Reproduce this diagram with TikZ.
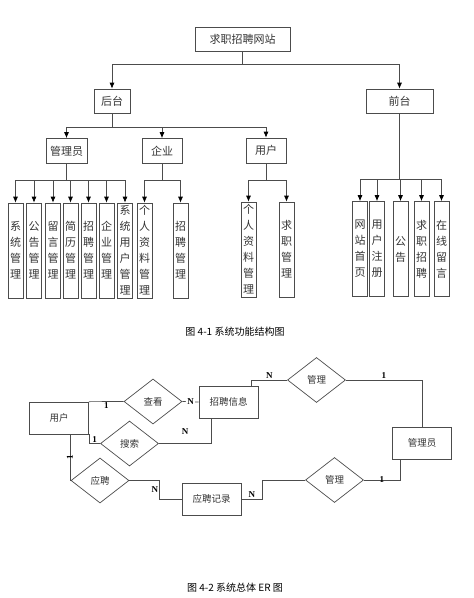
\documentclass[tikz,border=0pt]{standalone}
\usepackage{fontspec}
\setmainfont{Liberation Serif}
\newfontfamily\cjk{Noto Sans CJK SC}
\usetikzlibrary{shapes.geometric,arrows.meta}

\tikzset{
    box/.style={draw=black!70,line width=0.7pt,inner sep=0pt,text=black!80,font=\cjk\fontsize{11}{13}\selectfont},
    colbox/.style={box,minimum width=15pt,minimum height=95pt,align=center,font=\cjk\fontsize{11}{16}\selectfont},
    entity/.style={box,minimum width=59pt,minimum height=32pt,font=\cjk\fontsize{9.5}{11}\selectfont},
    relation/.style={box,diamond,minimum width=58pt,minimum height=45pt,font=\cjk\fontsize{9.5}{11}\selectfont},
    link/.style={draw=black!70,line width=0.7pt},
    arr/.style={link,-{Latex[length=6pt,width=5pt,color=black]}},
    card/.style={font=\bfseries\fontsize{9}{10}\selectfont,inner sep=1pt},
    caption/.style={font=\cjk\fontsize{10}{12}\selectfont}
}

\begin{document}
\begin{tikzpicture}[x=1pt,y=-1pt]
            \useasboundingbox (0,0) rectangle (474,598);

            \node[box,minimum width=95pt,minimum height=24pt] (site) at (242.5,39) {求职招聘网站};
            \node[box,minimum width=36pt,minimum height=24pt] (back) at (112,101) {后台};
            \node[box,minimum width=67pt,minimum height=24pt] (front) at (399.5,101) {前台};
            \node[box,minimum width=41pt,minimum height=25pt] (admin) at (66.5,151) {管理员};
            \node[box,minimum width=40pt,minimum height=25pt] (firm) at (162,151) {企业};
            \node[box,minimum width=40pt,minimum height=25pt] (member) at (266,150.5) {用户};

            \node[colbox] (adm1) at (15.5,250.5) {系\\统\\管\\理};
            \node[colbox] (adm2) at (34,250.5) {公\\告\\管\\理};
            \node[colbox] (adm3) at (53,250.5) {留\\言\\管\\理};
            \node[colbox] (adm4) at (70.5,250.5) {简\\历\\管\\理};
            \node[colbox] (adm5) at (88.5,250.5) {招\\聘\\管\\理};
            \node[colbox] (adm6) at (106.5,250.5) {企\\业\\管\\理};
            \node[colbox] (adm7) at (125,250.5) {系\\统\\用\\户\\管\\理};
            \node[colbox] (ent1) at (144.5,250.5) {个\\人\\资\\料\\管\\理};
            \node[colbox] (ent2) at (180.5,250.5) {招\\聘\\管\\理};
            \node[colbox] (usr1) at (248.5,249.5) {个\\人\\资\\料\\管\\理};
            \node[colbox] (usr2) at (286.5,249.5) {求\\职\\管\\理};
            \node[colbox] (fr1) at (360,249) {网\\站\\首\\页};
            \node[colbox] (fr2) at (377,249) {用\\户\\注\\册};
            \node[colbox] (fr3) at (400.5,249) {公\\告};
            \node[colbox] (fr4) at (421.5,249) {求\\职\\招\\聘};
            \node[colbox] (fr5) at (441.5,249) {在\\线\\留\\言};

            \draw[arr] (site.south) -- ++(0,13) -| (back.north);
            \draw[arr] (site.south) -- ++(0,13) -| (front.north);
            \draw[arr] (back.south) -- ++(0,14) -| (admin.north);
            \draw[arr] (back.south) -- ++(0,14) -| (firm.north);
            \draw[arr] (back.south) -- ++(0,14) -| (member.north);

            \draw[arr] (admin.south) -- ++(0,16) -| (adm1.north);
            \draw[arr] (admin.south) -- ++(0,16) -| (adm2.north);
            \draw[arr] (admin.south) -- ++(0,16) -| (adm3.north);
            \draw[arr] (admin.south) -- ++(0,16) -| (adm4.north);
            \draw[arr] (admin.south) -- ++(0,16) -| (adm5.north);
            \draw[arr] (admin.south) -- ++(0,16) -| (adm6.north);
            \draw[arr] (admin.south) -- ++(0,16) -| (adm7.north);
            \draw[arr] (firm.south) -- ++(0,16) -| (ent1.north);
            \draw[arr] (firm.south) -- ++(0,16) -| (ent2.north);
            \draw[arr] (member.south) -- ++(0,16.5) -| (usr1.north);
            \draw[arr] (member.south) -- ++(0,16.5) -| (usr2.north);
            \draw[arr] (front.south) -- ++(0,66) -| (fr1.north);
            \draw[arr] (front.south) -- ++(0,66) -| (fr2.north);
            \draw[arr] (front.south) -- ++(0,66) -| (fr3.north);
            \draw[arr] (front.south) -- ++(0,66) -| (fr4.north);
            \draw[arr] (front.south) -- ++(0,66) -| (fr5.north);

            \node[caption] (cap1) at (235,332) {图 4-1 系统功能结构图};

            \node[entity] (user) at (59,418) {用户};
            \node[relation] (view) at (153,401.5) {查看};
            \node[entity] (info) at (228.5,402) {招聘信息};
            \node[relation] (manage1) at (316.5,380) {管理};
            \node[entity] (staff) at (422,443) {管理员};
            \node[relation] (search) at (129.5,443.5) {搜索};
            \node[relation] (apply) at (100,480.5) {应聘};
            \node[entity] (record) at (211.5,499) {应聘记录};
            \node[relation] (manage2) at (334.5,480) {管理};

            \draw[link] (user.north east) -- node[card,below] {1} (view.west);
            \draw[link] (view.east) -- node[card,fill=white] {N} (info.west);
            \draw[link] (user.south east) |- node[card,pos=0.75,above] {1} (search.west);
            \draw[link] (search.east) -| node[card,pos=0.25,above=8pt] {N} ([xshift=-17pt]info.south);
            \draw[link] ([xshift=23pt]info.north) |- node[card,pos=0.75,above] {N} (manage1.west);
            \draw[link] (manage1.east) -| node[card,pos=0.25,above] {1} (staff.north);
            \draw[link] ([xshift=11pt]user.south) |- node[card,pos=0.25,rotate=90] {1} (apply.west);
            \draw[link] (apply.east) -- ++(30,0) |- node[card,pos=0.25,left] {N} (record.west);
            \draw[link] (record.east) -- node[card,above] {N} ++(21,0) |- (manage2.west);
            \draw[link] (manage2.east) -| node[card,pos=0.25] {1} ([xshift=-22pt]staff.south);

            \node[caption] (cap2) at (235,588) {图 4-2 系统总体 ER 图};
        \end{tikzpicture}
\end{document}
